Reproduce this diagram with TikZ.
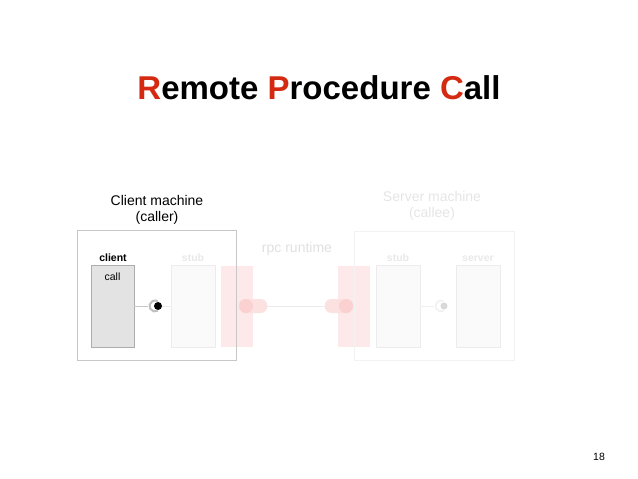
\documentclass[tikz,border=0pt]{standalone}
\usepackage{fontspec}
\setmainfont{Liberation Sans}
\usetikzlibrary{positioning, calc}

\definecolor{rpcred}{RGB}{212,42,18}
\definecolor{paleline}{RGB}{236,236,236}
\definecolor{palefill}{RGB}{250,250,250}
\definecolor{palepink}{RGB}{253,233,233}
\definecolor{pillpink}{RGB}{252,225,225}
\definecolor{dotpink}{RGB}{251,208,208}

\begin{document}
\begin{tikzpicture}[
    x=1pt, y=-1pt,
    machine/.style={draw=#1, rectangle, minimum width=159pt, minimum height=130pt, inner sep=0pt},
    proc/.style={draw=paleline, fill=palefill, rectangle, minimum width=44pt, minimum height=82pt, inner sep=0pt},
    runtime/.style={fill=palepink, rectangle, minimum width=32pt, minimum height=81pt, inner sep=0pt},
    pill/.style={fill=pillpink, rounded corners=7pt, minimum width=29pt, minimum height=14pt, inner sep=0pt},
    knob/.style={fill=dotpink, circle, minimum size=14pt, inner sep=0pt},
    head/.style={font=\fontsize{14}{16}\selectfont, align=center},
    tag/.style={font=\fontsize{10.5}{12}\selectfont\bfseries, text=#1, text height=8pt, text depth=0pt}
]
\useasboundingbox (0,0) rectangle (638,479);

% ====================
% Titolo
% ====================
\node[font=\fontsize{33}{38}\selectfont\bfseries] (title) at (319,88)
  {\textcolor{rpcred}{R}emote \textcolor{rpcred}{P}rocedure \textcolor{rpcred}{C}all};

% ====================
% Macchine
% ====================
\node[head] (clienthead) at (157,210) {Client machine\\(caller)};
\node[head, text=black!10] (serverhead) at (432,206) {Server machine\\(callee)};
\node[head, text=black!12] (rpchead) at (297,249) {rpc runtime};

% livello runtime (sotto i riquadri)
\node[runtime] (rtL) at (237,306.5) {};
\node[runtime] (rtR) at (354,306.5) {};

\node[machine=black!22] (clientbox) at (156.5,295) {};
\node[machine=black!5, minimum width=160pt, minimum height=129pt] (serverbox) at (434,295.5) {};

% ====================
% Processi
% ====================
\node[proc, draw=black!32, fill=black!11, minimum width=43pt] (call) at (112.5,306) {};
\node[font=\fontsize{10.5}{12}\selectfont, anchor=north] (calltxt) at ($(call.north)+(0,5)$) {call};
\node[proc] (cstub) at (193.5,306) {};
\node[proc] (sstub) at (398,306) {};
\node[proc] (server) at (478,306) {};

\node[tag=black] (clienttag) at (113,257) {client};
\node[tag=black!9] (cstubtag) at (193,257) {stub};
\node[tag=black!9] (sstubtag) at (398,257) {stub};
\node[tag=black!9] (servertag) at (478,257) {server};

% ====================
% Collegamenti
% ====================
% lato client
\coordinate (sockL) at (148,306);
\node[circle, fill=black, minimum size=8pt, inner sep=0pt] (dotL) at (158,306) {};
\draw[black!22] (call.east) -- (sockL);
\draw[black!25, line width=2pt] ($(dotL)+(-3,0)+(60:5.5)$) arc[start angle=60, end angle=300, radius=5.5];
\draw[paleline] (dotL) -- (cstub.west);

% runtime
\node[pill] (pillL) at (253,306) {};
\node[knob] (knobL) at (246,306) {};
\node[pill] (pillR) at (339,306) {};
\node[knob] (knobR) at (346,306) {};
\draw[paleline] (pillL.east) -- (pillR.west);

% lato server
\coordinate (sockR) at (434,306);
\node[circle, fill=black!15, minimum size=7pt, inner sep=0pt] (dotR) at (444,306) {};
\draw[black!6] (sstub.east) -- (sockR);
\draw[black!6, line width=1.5pt] ($(dotR)+(-3,0)+(60:5.5)$) arc[start angle=60, end angle=300, radius=5.5];

% numero pagina
\node[font=\fontsize{10.5}{12}\selectfont] (page) at (599,457) {18};

\end{tikzpicture}
\end{document}
